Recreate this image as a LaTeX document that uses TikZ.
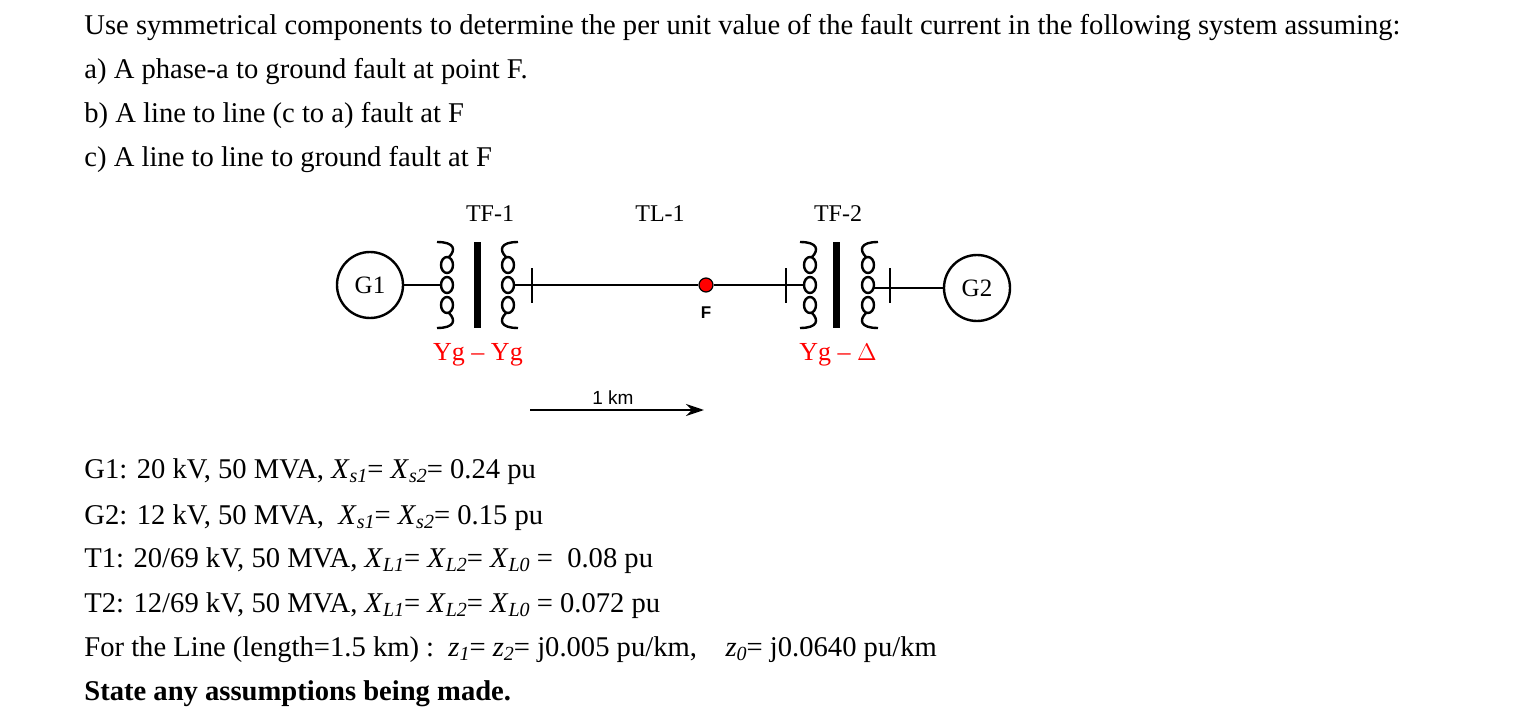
\documentclass[tikz,border=0pt]{standalone}
\usepackage{fontspec}
\usetikzlibrary{arrows.meta}
\setmainfont{Liberation Serif}
\setsansfont{Liberation Sans}
\newcommand{\sbx}[1]{\raisebox{-0.35ex}{\fontsize{10}{10}\selectfont\textit{#1}}}
\begin{document}
\begin{tikzpicture}[x=0.5pt,y=-0.5pt,
  txt/.style={anchor=base west,inner sep=0,font=\fontsize{14.3}{14.3}\selectfont},
  lbl/.style={font=\fontsize{12}{12}\selectfont},
  red lbl/.style={font=\fontsize{13}{13}\selectfont,text=red},
  wire/.style={line width=1.2pt},
  gen/.style={circle,draw,line width=1.2pt,minimum size=33pt,inner sep=0,font=\fontsize{12.5}{12.5}\selectfont}]
\useasboundingbox (0,0) rectangle (1533,717);
% text
\node[txt] (t1) at (84,35) {Use symmetrical components to determine the per unit value of the fault current in the following system assuming:};
\node[txt] (t2) at (84,79) {a) A phase-a to ground fault at point F.};
\node[txt] (t3) at (84,123) {b) A line to line (c to a) fault at F};
\node[txt] (t4) at (84,167) {c) A line to line to ground fault at F};
\node[txt] (t5) at (84,478) {G1: 20 kV, 50 MVA, \textit{X}\sbx{s1}= \textit{X}\sbx{s2}= 0.24 pu};
\node[txt] (t6) at (84,524) {G2: 12 kV, 50 MVA,\ \ \textit{X}\sbx{s1}= \textit{X}\sbx{s2}= 0.15 pu};
\node[txt] (t7) at (84,567) {T1: 20/69 kV, 50 MVA, \textit{X}\sbx{L1}= \textit{X}\sbx{L2}= \textit{X}\sbx{L0} =\ \ 0.08 pu};
\node[txt] (t8) at (84,612) {T2: 12/69 kV, 50 MVA, \textit{X}\sbx{L1}=\ \textit{X}\sbx{L2}= \textit{X}\sbx{L0} = 0.072 pu};
\node[txt] (t9) at (84,656) {For the Line (length=1.5 km) :\ \ \textit{z}\sbx{1}= \textit{z}\sbx{2}= j0.005 pu/km,\ \ \ \ \textit{z}\sbx{0}= j0.0640 pu/km};
\node[txt] (t10) at (84,700) {\textbf{State any assumptions being made.}};
% labels
\node[lbl] (l1) at (490,214) {TF-1};
\node[lbl] (l2) at (660,214) {TL-1};
\node[lbl] (l3) at (838,214) {TF-2};
\node[red lbl] (y1) at (478,355) {Yg -- Yg};
\node[red lbl] (y2) at (838,355) {Yg -- $\Delta$};
% generators
\node[gen] (g1) at (370,285) {G1};
\node[gen] (g2) at (977,288) {G2};
% coils
\foreach \cx/\d in {447/1,508/-1,810/1,868/-1}{
  \draw[wire] (\cx-10*\d,242) .. controls (\cx+8*\d,242) and (\cx+9*\d,250) .. (\cx+2*\d,257);
  \foreach \yy in {265,285,305}{
    \draw[wire] (\cx,\yy) ellipse (6 and 8);}
  \draw[wire] (\cx+2*\d,313) .. controls (\cx+9*\d,320) and (\cx+8*\d,328) .. (\cx-10*\d,328);
}
\fill (474,242) rectangle (481,328);
\fill (833,242) rectangle (840,328);
% buses
\coordinate (b1t) at (532,268); \coordinate (b1b) at (532,303);
\coordinate (b2t) at (786,268); \coordinate (b2b) at (786,303);
\coordinate (b3t) at (890,268); \coordinate (b3b) at (890,303);
\draw[wire] (b1t) -- (b1b); \draw[wire] (b2t) -- (b2b); \draw[wire] (b3t) -- (b3b);
\node[circle,fill=red,draw=black,line width=0.6pt,minimum size=7pt,inner sep=0] (F) at (706,285) {};
\node[font=\sffamily\bfseries\fontsize{8.5}{8.5}\selectfont] (fl) at (706,313) {F};
\coordinate (c1) at (441,285); \coordinate (c2) at (514,285);
\coordinate (c3) at (804,285); \coordinate (c4) at (874,288);
\draw[wire] (g1) -- (c1);
\draw[wire] (c2) -- (F) -- (c3);
\draw[wire] (c4) -- (g2);
% arrow
\node[font=\sffamily\fontsize{9.5}{9.5}\selectfont] (km) at (613,398) {1 km};
\coordinate (a1) at (530,410); \coordinate (a2) at (704,410);
\draw[line width=1pt,-{Stealth[length=9pt,width=6pt]}] (a1) -- (a2);
\end{tikzpicture}
\end{document}
